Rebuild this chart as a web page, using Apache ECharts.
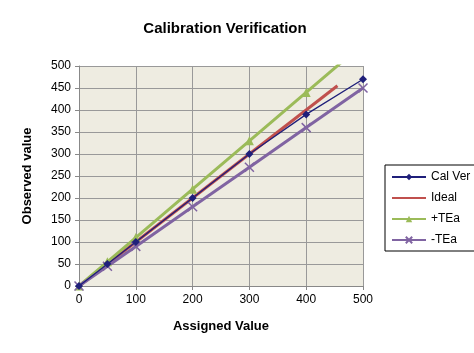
<!DOCTYPE html>
<html>
<head>
<meta charset="utf-8">
<script src="https://cdn.jsdelivr.net/npm/echarts@6/dist/echarts.min.js"></script>
<style>
  html, body { margin: 0; padding: 0; background: #fff; }
  #chart { width: 474px; height: 353px; }
</style>
</head>
<body>
<div id="chart"></div>
<script>
var assigned = [0, 50, 100, 200, 300, 400, 500];
var calVer = [0, 50, 100, 200, 300, 390, 470];
var idealX = [0, 455];
var idealY = [0, 455];
var plusTEa = [0, 55, 110, 220, 330, 440, 550];
var minusTEa = [0, 45, 90, 180, 270, 360, 450];
var xTicks = [0, 100, 200, 300, 400, 500];

function pairs(xs, ys) {
    return xs.map(function (x, i) { return [x, ys[i]]; });
}

var font = 'Liberation Sans, Arial, sans-serif';

var myChart = echarts.init(document.getElementById('chart'));
myChart.setOption({
    animation: false,
    backgroundColor: '#fff',
    title: {
        text: 'Calibration Verification',
        left: 220,
        textAlign: 'center',
        top: 16,
        textStyle: { fontFamily: font, fontSize: 15, fontWeight: 'bold', color: '#000' }
    },
    legend: {
        orient: 'vertical',
        left: 385,
        top: 165,
        itemWidth: 34,
        itemHeight: 8,
        itemGap: 9,
        padding: [6, 6, 5, 6],
        borderColor: '#000',
        borderWidth: 1,
        textStyle: { fontFamily: font, fontSize: 12, color: '#000' },
        data: [
            'Cal Ver',
            { name: 'Ideal', itemStyle: { opacity: 0 } },
            '+TEa',
            '-TEa'
        ]
    },
    grid: { left: 79, right: 111, top: 66, bottom: 67, backgroundColor: '#eeece1', show: true, borderWidth: 0 },
    xAxis: {
        type: 'value',
        min: 0, max: 500, interval: 100,
        name: 'Assigned Value',
        nameLocation: 'middle',
        nameGap: 34,
        nameTextStyle: { fontFamily: font, fontSize: 13, fontWeight: 'bold', color: '#000' },
        axisLine: { show: true, lineStyle: { color: '#888' } },
        axisTick: { show: true, inside: false, length: 4, lineStyle: { color: '#888' } },
        axisLabel: {
            fontFamily: font, fontSize: 12, color: '#000', margin: 8,
            formatter: function (v) { return xTicks.indexOf(v) >= 0 ? String(v) : ''; }
        },
        splitLine: { show: true, lineStyle: { color: '#999' } }
    },
    yAxis: {
        type: 'value',
        min: 0, max: 500, interval: 50,
        name: 'Observed value',
        nameLocation: 'middle',
        nameGap: 45,
        nameTextStyle: { fontFamily: font, fontSize: 13, fontWeight: 'bold', color: '#000' },
        axisLine: { show: true, lineStyle: { color: '#888' } },
        axisTick: { show: true, inside: false, length: 4, lineStyle: { color: '#888' } },
        axisLabel: { fontFamily: font, fontSize: 12, color: '#000', margin: 8 },
        splitLine: { show: true, lineStyle: { color: '#999' } }
    },
    series: [
        {
            name: 'Ideal', type: 'line', z: 2,
            data: pairs(idealX, idealY),
            symbol: 'none',
            lineStyle: { color: '#c0504d', width: 3 },
            itemStyle: { color: '#c0504d' }
        },
        {
            name: '+TEa', type: 'line', z: 3,
            data: pairs(assigned, plusTEa),
            symbol: 'triangle', symbolSize: 9,
            lineStyle: { color: '#9bbb59', width: 3 },
            itemStyle: { color: '#9bbb59' }
        },
        {
            name: '-TEa', type: 'line', z: 3,
            data: pairs(assigned, minusTEa),
            symbol: 'path://M0,0 L2,2 M2,0 L0,2', symbolSize: 9,
            lineStyle: { color: '#8064a2', width: 3 },
            itemStyle: { color: '#8064a2', borderColor: '#8064a2', borderWidth: 1.5 }
        },
        {
            name: 'Cal Ver', type: 'line', z: 4,
            data: pairs(assigned, calVer),
            symbol: 'diamond', symbolSize: 8,
            lineStyle: { color: '#1f1f7a', width: 1.3 },
            itemStyle: { color: '#1f1f7a' }
        }
    ]
});
</script>
</body>
</html>
